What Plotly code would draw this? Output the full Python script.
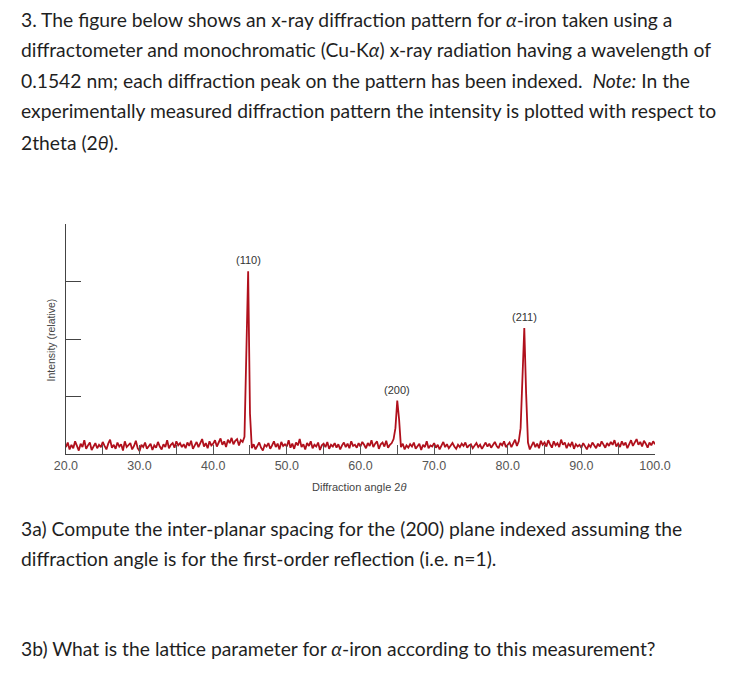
import plotly.graph_objects as go

theta_start = 20.0
theta_step = 0.25
intensity = [
    0.12,0.20,0.08,0.16,0.10,0.22,0.14,0.06,0.18,0.12,0.24,0.09,0.15,0.20,0.07,0.13,0.19,0.10,0.16,0.12,  # 20-25
    0.21,0.14,0.08,0.18,0.25,0.11,0.16,0.09,0.20,0.13,0.17,0.06,0.22,0.12,0.15,0.19,0.08,0.14,0.23,0.10,  # 25-30
    0.05,0.16,0.12,0.20,0.09,0.14,0.18,0.07,0.15,0.11,0.21,0.13,0.08,0.17,0.12,0.24,0.10,0.16,0.19,0.11,  # 30-35
    0.22,0.15,0.19,0.12,0.17,0.10,0.20,0.14,0.23,0.09,0.16,0.21,0.12,0.18,0.26,0.13,0.19,0.10,0.22,0.15,  # 35-40
    0.18,0.24,0.13,0.20,0.27,0.16,0.22,0.12,0.25,0.19,0.28,0.17,0.23,0.26,0.15,0.24,0.21,0.30,1.70,3.18,  # 40-45
    0.70,0.10,0.17,0.08,0.14,0.20,0.11,0.06,0.16,0.13,0.19,0.09,0.15,0.22,0.12,0.18,0.08,0.21,0.14,0.17,  # 45-50
    0.13,0.24,0.11,0.18,0.09,0.20,0.15,0.26,0.12,0.17,0.08,0.19,0.14,0.22,0.10,0.16,0.13,0.20,0.07,0.15,  # 50-55
    0.18,0.12,0.21,0.09,0.16,0.13,0.19,0.11,0.17,0.08,0.15,0.20,0.12,0.18,0.10,0.22,0.14,0.16,0.11,0.19,  # 55-60
    0.13,0.21,0.16,0.10,0.19,0.14,0.24,0.12,0.18,0.22,0.09,0.17,0.20,0.13,0.23,0.11,0.16,0.19,0.26,0.45,  # 60-65
    0.93,0.60,0.12,0.18,0.08,0.15,0.11,0.17,0.13,0.20,0.09,0.14,0.18,0.07,0.16,0.12,0.22,0.10,0.15,0.13,  # 65-70
    0.19,0.11,0.16,0.08,0.14,0.21,0.12,0.17,0.10,0.15,0.19,0.13,0.09,0.16,0.12,0.18,0.14,0.20,0.11,0.15,  # 70-75
    0.17,0.10,0.14,0.19,0.12,0.16,0.09,0.15,0.20,0.13,0.18,0.11,0.16,0.21,0.14,0.10,0.19,0.15,0.22,0.12,  # 75-80
    0.16,0.20,0.12,0.18,0.25,0.14,0.22,0.45,1.40,2.19,1.05,0.20,0.08,0.15,0.21,0.12,0.18,0.10,0.23,0.16,  # 80-85
    0.20,0.13,0.24,0.17,0.11,0.22,0.15,0.19,0.12,0.25,0.16,0.20,0.10,0.18,0.14,0.21,0.09,0.17,0.13,0.16,  # 85-90
    0.11,0.19,0.14,0.08,0.16,0.12,0.20,0.15,0.10,0.18,0.13,0.22,0.17,0.11,0.19,0.14,0.21,0.16,0.24,0.13,  # 90-95
    0.18,0.12,0.22,0.15,0.20,0.10,0.17,0.24,0.14,0.19,0.26,0.16,0.21,0.13,0.23,0.18,0.11,0.20,0.15,0.22,  # 95-100
    0.17,
]
two_theta = [theta_start + theta_step * i for i in range(len(intensity))]

# peak indexing labels
peak_labels = ["(110)", "(200)", "(211)"]
peak_angles = [44.75, 65.0, 82.25]
peak_heights = [3.18, 0.93, 2.19]

x_tick_vals = [20 + 5 * i for i in range(17)]
x_tick_text = [f"{v:.1f}" if v % 10 == 0 else "" for v in x_tick_vals]
y_tick_vals = [0, 1, 2, 3, 4]

question_lines = [
    "3. The figure below shows an x-ray diffraction pattern for <i>α</i>-iron taken using a",
    "diffractometer and monochromatic (Cu-K<i>α</i>) x-ray radiation having a wavelength of",
    "0.1542 nm; each diffraction peak on the pattern has been indexed.\u00a0 <i>Note:</i> In the",
    "experimentally measured diffraction pattern the intensity is plotted with respect to",
    "2theta (2<i>θ</i>).",
]
question_y = [19, 50, 80, 111, 142]
part_lines = [
    "3a) Compute the inter-planar spacing for the (200) plane indexed assuming the",
    "diffraction angle is for the first-order reflection (i.e. n=1).",
    "3b) What is the lattice parameter for <i>α</i>-iron according to this measurement?",
]
part_y = [528, 558, 648]

W, H = 748, 680
x0, x1 = 56, 668
y0, y1 = 454, 224

fig = go.Figure()
fig.add_trace(go.Scatter(
    x=two_theta, y=intensity, mode="lines",
    line=dict(color="#b0101c", width=1.8),
    hoverinfo="skip", showlegend=False,
))

ann = []
for lbl, a, h in zip(peak_labels, peak_angles, peak_heights):
    ann.append(dict(x=a, y=h, xref="x", yref="y", text=lbl, showarrow=False,
                    yanchor="bottom", yshift=3,
                    font=dict(family="Liberation Sans, Arial", size=11, color="#333")))

ann.append(dict(x=360 / W, y=1 - 487 / H, xref="paper", yref="paper",
                text="Diffraction angle 2<i>θ</i>", showarrow=False,
                xanchor="center", yanchor="middle",
                font=dict(family="Liberation Sans, Arial", size=11, color="#444")))
ann.append(dict(x=40 / W, y=1 - 340 / H, xref="paper", yref="paper",
                text="Intensity (relative)", showarrow=False, textangle=-90,
                xanchor="center", yanchor="middle",
                font=dict(family="Liberation Sans, Arial", size=10.5, color="#444")))

for t, yy in zip(question_lines + part_lines, question_y + part_y):
    ann.append(dict(x=7 / W, y=1 - yy / H, xref="paper", yref="paper", text=t,
                    showarrow=False, xanchor="left", yanchor="middle", align="left",
                    font=dict(family="Lato", size=19.3, color="#1f1f1f")))

fig.update_layout(
    width=W, height=H,
    margin=dict(l=0, r=0, t=0, b=0),
    paper_bgcolor="white", plot_bgcolor="white",
    annotations=ann,
    xaxis=dict(domain=[x0 / W, x1 / W], range=[20, 100],
               tickmode="array", tickvals=x_tick_vals, ticktext=x_tick_text,
               ticks="inside", ticklen=9, tickwidth=1, tickcolor="#555",
               showline=True, linecolor="#444", linewidth=1.3,
               showgrid=False, zeroline=False,
               tickfont=dict(family="Liberation Sans, Arial", size=12.5, color="#555")),
    yaxis=dict(domain=[1 - y0 / H, 1 - y1 / H], range=[0, 4],
               tickmode="array", tickvals=y_tick_vals, showticklabels=False,
               ticks="inside", ticklen=15, tickwidth=1.3, tickcolor="#444",
               showline=True, linecolor="#444", linewidth=1.3,
               showgrid=False, zeroline=False),
)

fig.write_html("out.html", config={"displayModeBar": False},
               post_script="document.body.style.margin='0';document.body.style.overflow='hidden';")
